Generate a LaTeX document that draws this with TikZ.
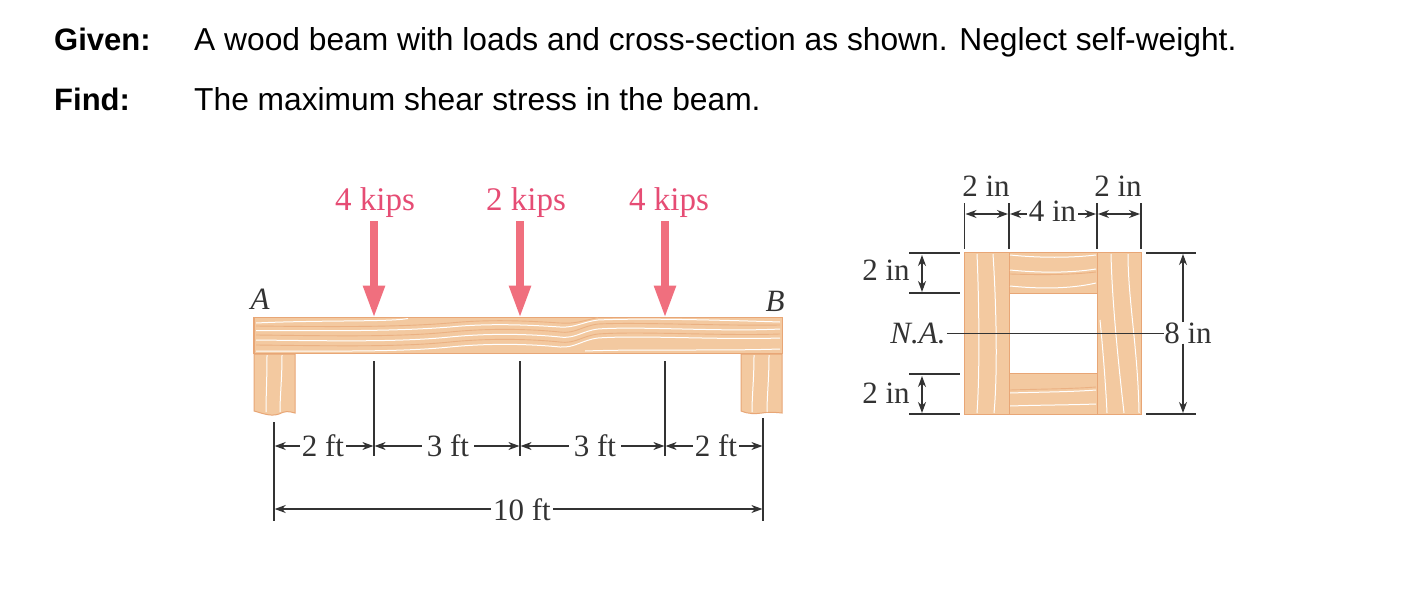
\documentclass[tikz,border=0pt]{standalone}
\usepackage{fontspec}
\setmainfont{Liberation Serif}
\newfontfamily\headfont{Liberation Sans}
\usetikzlibrary{arrows.meta}
\definecolor{woodfill}{HTML}{F3C9A0}
\definecolor{woodedge}{HTML}{E8A676}
\definecolor{loadred}{HTML}{F06F7E}
\definecolor{loadtext}{HTML}{E64C74}
\definecolor{dimink}{HTML}{333333}
\tikzset{
  x=1pt,y=-1pt,
  headtext/.style={anchor=base west,inner sep=0pt,font=\headfont\fontsize{31.75}{36}\selectfont,text=black},
  headbold/.style={headtext,font=\headfont\bfseries\fontsize{31}{36}\selectfont},
  lbl/.style={anchor=base,inner sep=2pt,font=\fontsize{31}{36}\selectfont,text=dimink},
  lblwide/.style={lbl,inner sep=5pt},
  lblit/.style={lbl,font=\itshape\fontsize{31}{36}\selectfont},
  loadlbl/.style={anchor=base,inner sep=0pt,font=\fontsize{33}{36}\selectfont,text=loadtext},
  load/.style={draw=loadred,line width=8pt,-{Triangle[width=20pt,length=33pt]}},
  wood/.style={fill=woodfill,draw=woodedge,line width=1.6pt},
  grain/.style={draw=white,line width=1pt},
  graindark/.style={draw=woodedge!70!woodfill,line width=.9pt},
  ext/.style={draw=dimink,line width=1.3pt},
  dimline/.style={draw=dimink,line width=1.2pt,-{Stealth[length=11pt,width=8pt,inset=3.5pt]}},
  dimboth/.style={draw=dimink,line width=1.2pt,{Stealth[length=11pt,width=8pt,inset=3.5pt]}-{Stealth[length=11pt,width=8pt,inset=3.5pt]}},
}
\begin{document}
\begin{tikzpicture}
\useasboundingbox (0,0) rectangle (1423,607);
\fill[white] (0,0) rectangle (1423,607);

% heading
\node[headbold] (given) at (54,51) {Given:};
\node[headtext] (givent) at (194,51) {A wood beam with loads and cross-section as shown. Neglect self-weight.};
\node[headbold] (find) at (54,111) {Find:};
\node[headtext] (findt) at (194,111) {The maximum shear stress in the beam.};

% supports
\path[wood,line width=1pt] (254,354) -- (295,354) -- (295,413)
  .. controls (288,411) and (285,411) .. (279,414)
  .. controls (270,417) and (262,413) .. (254,411) -- cycle;
\path[wood,line width=1pt] (741,354) -- (782,354) -- (782,413)
  .. controls (772,412) and (768,412) .. (762,413)
  .. controls (755,414) and (748,414) .. (741,411) -- cycle;
\foreach \xa/\xb in {267/266,282/280}{\draw[grain] (\xa,355) .. controls (\xa,380) and (\xb,395) .. (\xb,412);}
\foreach \xa/\xb in {754/752,769/767}{\draw[grain] (\xa,355) .. controls (\xa,380) and (\xb,395) .. (\xb,412);}

% beam
\path[wood] (254,317.5) rectangle (782.5,353.5);
\draw[grain] (256,323) .. controls (320,320) and (390,322) .. (408,318.5);
\draw[grain] (256,330.5) .. controls (340,331) and (400,331) .. (450,327) .. controls (490,323) and (530,325) .. (560,327) .. controls (575,328) and (582,322) .. (598,320) .. controls (640,318) and (720,320) .. (780,322);
\draw[grain] (256,340) .. controls (340,341) and (400,342) .. (450,337) .. controls (490,333) and (530,334) .. (560,337) .. controls (575,339) and (582,331) .. (598,329) .. controls (640,326) and (720,332) .. (780,329);
\draw[grain] (256,351) .. controls (340,351) and (400,352) .. (450,347) .. controls (490,343) and (530,344) .. (560,347) .. controls (575,348) and (582,340) .. (598,338) .. controls (640,335) and (720,340) .. (780,338);
\draw[grain] (585,351) .. controls (640,349) and (720,351) .. (780,349);
\draw[graindark] (256,326) .. controls (340,327) and (400,327) .. (450,323) .. controls (490,319) and (530,321) .. (560,323) .. controls (575,324) and (582,321) .. (598,317.5);
\draw[graindark] (256,335) .. controls (340,336) and (400,337) .. (450,332) .. controls (490,328) and (530,329) .. (560,332) .. controls (575,334) and (582,326) .. (598,324) .. controls (640,322) and (720,326) .. (780,325);
\draw[graindark] (256,345) .. controls (340,346) and (400,347) .. (450,342) .. controls (490,338) and (530,339) .. (560,342) .. controls (575,344) and (582,336) .. (598,334) .. controls (640,331) and (720,336) .. (780,334);

% loads
\node[loadlbl] (k1) at (375,210) {4 kips};
\node[loadlbl] (k2) at (526,210) {2 kips};
\node[loadlbl] (k3) at (669,210) {4 kips};
\coordinate (l1a) at (374,221); \coordinate (l1b) at (374,318.5);
\coordinate (l2a) at (520,221); \coordinate (l2b) at (520,318.5);
\coordinate (l3a) at (665,221); \coordinate (l3b) at (665,318.5);
\draw[load] (l1a) -- (l1b);
\draw[load] (l2a) -- (l2b);
\draw[load] (l3a) -- (l3b);

\node[lblit] (A) at (260,309) {A};
\node[lblit] (B) at (775,311) {B};

% beam extension lines
\coordinate (e1t) at (374,361); \coordinate (e1b) at (374,456);
\coordinate (e2t) at (520,361); \coordinate (e2b) at (520,456);
\coordinate (e3t) at (665,361); \coordinate (e3b) at (665,456);
\coordinate (eAt) at (274,422); \coordinate (eAb) at (274,521);
\coordinate (eBt) at (763,418); \coordinate (eBb) at (763,521);
\draw[ext] (e1t) -- (e1b);
\draw[ext] (e2t) -- (e2b);
\draw[ext] (e3t) -- (e3b);
\draw[ext] (eAt) -- (eAb);
\draw[ext] (eBt) -- (eBb);

% beam dimensions
\coordinate (dA) at (274.7,446); \coordinate (d1l) at (373.4,446); \coordinate (d1r) at (374.6,446);
\coordinate (d2l) at (519.4,446); \coordinate (d2r) at (520.6,446);
\coordinate (d3l) at (664.4,446); \coordinate (d3r) at (665.6,446);
\coordinate (dB) at (762.4,446);
\coordinate (tA) at (274.7,509); \coordinate (tB) at (762.4,509);
\node[lbl] (f1) at (323,456) {2 ft};
\node[lblwide] (f2) at (448,456) {3 ft};
\node[lblwide] (f3) at (595,456) {3 ft};
\node[lbl] (f4) at (716,456) {2 ft};
\node[lbl] (f10) at (522,520) {10 ft};
\draw[dimline] (f1.west|-dA) -- (dA);
\draw[dimline] (f1.east|-dA) -- (d1l);
\draw[dimline] (f2.west|-dA) -- (d1r);
\draw[dimline] (f2.east|-dA) -- (d2l);
\draw[dimline] (f3.west|-dA) -- (d2r);
\draw[dimline] (f3.east|-dA) -- (d3l);
\draw[dimline] (f4.west|-dA) -- (d3r);
\draw[dimline] (f4.east|-dA) -- (dB);
\draw[dimline] (f10.west|-tA) -- (tA);
\draw[dimline] (f10.east|-tA) -- (tB);

% cross-section
\path[wood,line width=1pt] (1009,252.5) rectangle (1097,293);
\path[wood,line width=1pt] (1009,373) rectangle (1097,414);
\path[wood,line width=1pt] (964.5,252.5) rectangle (1009,414);
\path[wood,line width=1pt] (1097,252.5) rectangle (1141.5,414);
\draw[grain] (977,254) .. controls (979,300) and (980,370) .. (977,413);
\draw[grain] (993,254) .. controls (996,300) and (998,370) .. (994,413);
\draw[grain] (1111,254) .. controls (1112,300) and (1118,360) .. (1124,413);
\draw[grain] (1128,254) .. controls (1128,300) and (1138,350) .. (1139,413);
\draw[grain] (1100,320) .. controls (1103,350) and (1106,390) .. (1107,413);
\draw[grain] (1010,255) .. controls (1040,258) and (1070,258) .. (1096,255);
\draw[grain] (1010,270) .. controls (1040,273) and (1070,273) .. (1096,269);
\draw[grain] (1010,286) .. controls (1040,289) and (1070,289) .. (1096,283);
\draw[grain] (1010,393) .. controls (1040,392) and (1070,392) .. (1096,390);
\draw[grain] (1010,406) .. controls (1040,405) and (1070,405) .. (1096,404);
\draw[graindark] (1010,274) .. controls (1040,275) and (1070,275) .. (1096,272);
\draw[graindark] (1010,390) .. controls (1040,389) and (1070,389) .. (1096,387);

% section extension lines
\coordinate (s1t) at (964.5,203); \coordinate (s1b) at (964.5,249);
\coordinate (s2t) at (1009,203); \coordinate (s2b) at (1009,249);
\coordinate (s3t) at (1097,203); \coordinate (s3b) at (1097,249);
\coordinate (s4t) at (1141,203); \coordinate (s4b) at (1141,249);
\draw[ext] (s1t) -- (s1b);
\draw[ext] (s2t) -- (s2b);
\draw[ext] (s3t) -- (s3b);
\draw[ext] (s4t) -- (s4b);
\coordinate (hl1a) at (909,253); \coordinate (hl1b) at (960,253);
\coordinate (hl2a) at (909,293); \coordinate (hl2b) at (960,293);
\coordinate (hl3a) at (909,374); \coordinate (hl3b) at (960,374);
\coordinate (hl4a) at (909,414); \coordinate (hl4b) at (960,414);
\coordinate (hr1a) at (1146,253); \coordinate (hr1b) at (1196,253);
\coordinate (hr2a) at (1146,414); \coordinate (hr2b) at (1196,414);
\draw[ext] (hl1a) -- (hl1b);
\draw[ext] (hl2a) -- (hl2b);
\draw[ext] (hl3a) -- (hl3b);
\draw[ext] (hl4a) -- (hl4b);
\draw[ext] (hr1a) -- (hr1b);
\draw[ext] (hr2a) -- (hr2b);

% section labels
\node[lbl] (w1) at (986,196) {2 in};
\node[lbl] (w2) at (1052.5,221) {4 in};
\node[lbl] (w3) at (1118,196) {2 in};
\node[lbl] (h1) at (886,280) {2 in};
\node[lbl] (h2) at (886,403) {2 in};
\node[lblit,inner sep=0pt] (na) at (918,343) {N.A.};
\node[lbl,inner sep=0pt] (h8) at (1188,343) {8 in};

% section dimensions
\coordinate (w1a) at (965.5,214); \coordinate (w1b) at (1008,214);
\coordinate (w2a) at (1010,214); \coordinate (w2b) at (1096,214);
\coordinate (w3a) at (1098,214); \coordinate (w3b) at (1140,214);
\draw[dimboth] (w1a) -- (w1b);
\draw[dimline] (w2.west|-w2a) -- (w2a);
\draw[dimline] (w2.east|-w2a) -- (w2b);
\draw[dimboth] (w3a) -- (w3b);
\coordinate (v1a) at (922,255); \coordinate (v1b) at (922,292);
\coordinate (v2a) at (922,376); \coordinate (v2b) at (922,413);
\draw[dimboth] (v1a) -- (v1b);
\draw[dimboth] (v2a) -- (v2b);
\coordinate (v8a) at (1183,254); \coordinate (v8b) at (1183,413);
\draw[dimline] (h8.north-|v8a) -- (v8a);
\draw[dimline] (h8.south-|v8a) -- (v8b);
\draw[draw=dimink,line width=1pt] (na.east) ++(1,0) coordinate (nal) (nal|-0,333) -- (h8.west|-0,333);
\end{tikzpicture}
\end{document}
